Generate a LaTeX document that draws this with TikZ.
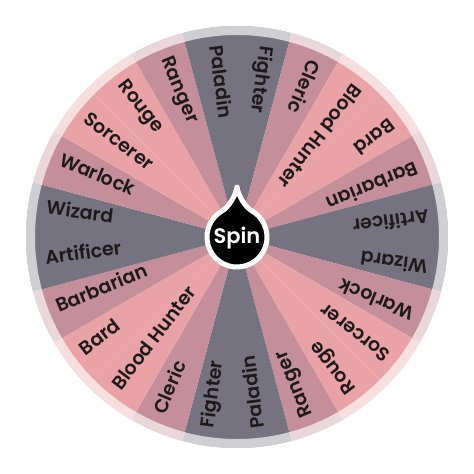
\documentclass[tikz,border=0pt]{standalone}
\usepackage{fontspec}
\newfontfamily\pop{Poppins}[UprightFont={* SemiBold}, BoldFont={* SemiBold}]
\definecolor{wgray}{HTML}{767381}
\definecolor{wmauve}{HTML}{C48F9A}
\definecolor{wpink}{HTML}{E9A2A6}
\definecolor{wtext}{HTML}{1E1A1C}
\begin{document}
\begin{tikzpicture}[x=1pt,y=1pt,
  lbl/.style={font=\pop\fontsize{19}{19}\selectfont, inner sep=0pt, anchor=mid west, text=wtext},
  rim/.style={white, opacity=0.65}]
\useasboundingbox (-237,-237) rectangle (237,237);
\fill[white] (-237,-237) rectangle (237,237);
\foreach \i/\name/\col in {0/Fighter/wgray, 1/Cleric/wmauve, 2/Blood Hunter/wpink, 3/Bard/wpink,
  4/Barbarian/wmauve, 5/Artificer/wgray, 6/Wizard/wgray, 7/Warlock/wmauve, 8/Sorcerer/wpink,
  9/Rouge/wpink, 10/Ranger/wmauve, 11/Paladin/wgray, 12/Fighter/wgray, 13/Cleric/wmauve,
  14/Blood Hunter/wpink, 15/Bard/wpink, 16/Barbarian/wmauve, 17/Artificer/wgray, 18/Wizard/wgray,
  19/Warlock/wmauve, 20/Sorcerer/wpink, 21/Rouge/wpink, 22/Ranger/wmauve, 23/Paladin/wgray}{
  \pgfmathsetmacro{\b}{90-15*\i}
  \pgfmathsetmacro{\a}{\b-15}
  \pgfmathsetmacro{\c}{\b-7.5}
  \fill[\col] (0,0) -- (\a:211) arc[start angle=\a, end angle=\b, radius=211] -- cycle;
  \node[lbl, rotate=\c+180] (l\i) at (\c:193) {\name};
}
\fill[rim, even odd rule] (0,0) circle[radius=211] (0,0) circle[radius=202];
\draw[white, line width=5pt, fill=black, line join=round]
  (15,25.98) arc[start angle=60, end angle=-240, radius=30]
  .. controls (-8,30) and (-1,42) .. (0,50)
  .. controls (1,42) and (8,30) .. cycle;
\node[font=\pop\bfseries\fontsize{21}{21}\selectfont, text=white] (spin) at (0,-1) {Spin};
\end{tikzpicture}
\end{document}
